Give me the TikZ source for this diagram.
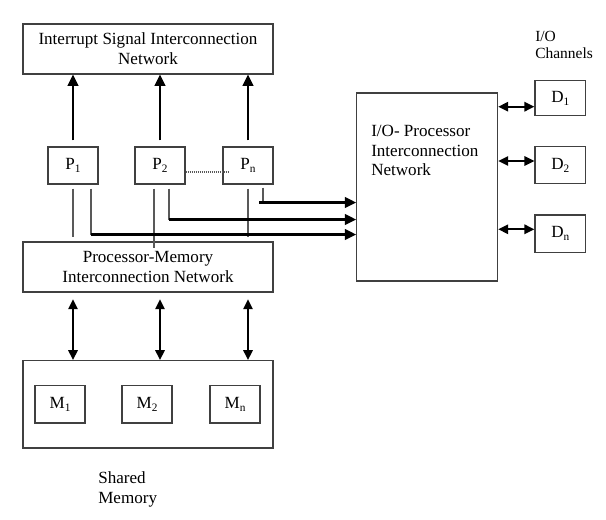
\documentclass[tikz,border=0pt]{standalone}
\usepackage{fontspec}
\setmainfont{Liberation Serif}
\usetikzlibrary{arrows.meta,calc}
\newcommand\mysub[1]{\raisebox{-0.35ex}{\fontsize{8.5}{9}\selectfont #1}}
\begin{document}
\begin{tikzpicture}[x=0.75pt,y=-0.75pt,
  box/.style={draw=black!75,line width=0.8pt,inner sep=0pt,align=center,
    font=\fontsize{12.8}{14.8}\selectfont},
  thin/.style={draw=black!65,line width=0.8pt},
  arr/.style={line width=1.7pt,-{Triangle[length=8.5pt,width=8pt]}},
  dbl/.style={line width=1.5pt,{Triangle[length=7.5pt,width=7pt]}-{Triangle[length=7.5pt,width=7pt]}},
  lbl/.style={inner sep=0pt,align=left,font=\fontsize{12.8}{14.8}\selectfont}]
\useasboundingbox[fill=white] (0,0) rectangle (606,520);
% boxes
\node[box,minimum width=187.5pt,minimum height=37.5pt] (isn) at (148,49)
  {Interrupt Signal Interconnection\\Network};
\node[box,minimum width=37.5pt,minimum height=27.75pt] (p1) at (73,165.5) {P\mysub{1}};
\node[box,minimum width=37.5pt,minimum height=27.75pt] (p2) at (160,165.5) {P\mysub{2}};
\node[box,minimum width=37.5pt,minimum height=27.75pt] (pn) at (248,165.5) {P\mysub{n}};
\node[box,minimum width=187.5pt,minimum height=37.5pt] (pm) at (148,267)
  {Processor-Memory\\Interconnection Network};
\node[box,minimum width=105.75pt,minimum height=141pt] (io) at (427.2,187) {};
\node[lbl,anchor=west] (iolabel) at (371,150.5)
  {I/O- Processor\\Interconnection\\Network};
\node[box,minimum width=38pt,minimum height=26pt] (d1) at (560.3,98.3) {D\mysub{1}};
\node[box,minimum width=38pt,minimum height=28pt] (d2) at (560.3,165.3) {D\mysub{2}};
\node[box,minimum width=38pt,minimum height=28pt] (dn) at (560.3,233.7) {D\mysub{n}};
\node[inner sep=0pt,align=left,anchor=west,font=\fontsize{11.6}{12.8}\selectfont]
  (ioch) at (535,44.5) {I/O\\Channels};
\node[box,minimum width=187.5pt,minimum height=65.5pt] (sm) at (148,404.3) {};
\node[box,minimum width=37.5pt,minimum height=28pt] (m1) at (60,404.3) {M\mysub{1}};
\node[box,minimum width=37.5pt,minimum height=28pt] (m2) at (147,404.3) {M\mysub{2}};
\node[box,minimum width=37.5pt,minimum height=28pt] (mn) at (235,404.3) {M\mysub{n}};
\node[lbl,anchor=west] (shared) at (98,489.5) {Shared\\Memory};
% up arrows to interrupt network
\foreach \p in {p1,p2,pn}
  \draw[arr,shorten <=4.5pt,shorten >=0pt] (\p.north) -- (\p.north |- isn.south);
% dotted link
\draw[black!65,line width=0.8pt,dash pattern=on 0.75pt off 0.75pt] ($(p2.east)+(0,6.5)$) -- ($(pn.west)+(7,6.5)$);
% lines to processor-memory network
\draw[thin] ($(p1.south)+(0,4)$) -- ($(p1.south |- pm.north)+(0,-4)$);
\draw[thin] ($(p2.south)+(-6,4)$) -- ($(p2.south |- pm.north)+(-6,7)$);
\draw[thin] ($(pn.south)+(0,4)$) -- ($(pn.south |- pm.north)+(0,-4)$);
% lines to I/O network
\coordinate (c1) at ($(p1.south)+(18,50)$);
\coordinate (c2) at ($(p2.south)+(9,35)$);
\coordinate (c3) at ($(pn.south)+(15,18)$);
\draw[thin] ($(p1.south)+(18,4)$) -- (c1);
\draw[thin] ($(p2.south)+(9,4)$) -- (c2);
\draw[thin] ($(pn.south)+(15,3)$) -- (c3);
\draw[arr] (c1) -- (io.west |- c1);
\draw[arr] (c2) -- (io.west |- c2);
\draw[arr] ($(c3)+(-4,0)$) -- (io.west |- c3);
% I/O channels
\coordinate (a1) at ($(d1.west)+(0,8.4)$);
\coordinate (a2) at ($(d2.west)+(0,-4.3)$);
\coordinate (a3) at ($(dn.west)+(0,-4.4)$);
\draw[dbl] (io.east |- a1) -- (a1);
\draw[dbl] (io.east |- a2) -- (a2);
\draw[dbl] (io.east |- a3) -- (a3);
% memory arrows
\draw[dbl,shorten <=5pt] (pm.south -| p1.south) -- (sm.north -| p1.south);
\draw[dbl,shorten <=5pt] (pm.south -| p2.south) -- (sm.north -| p2.south);
\draw[dbl,shorten <=5pt] (pm.south -| pn.south) -- (sm.north -| pn.south);
\end{tikzpicture}
\end{document}
